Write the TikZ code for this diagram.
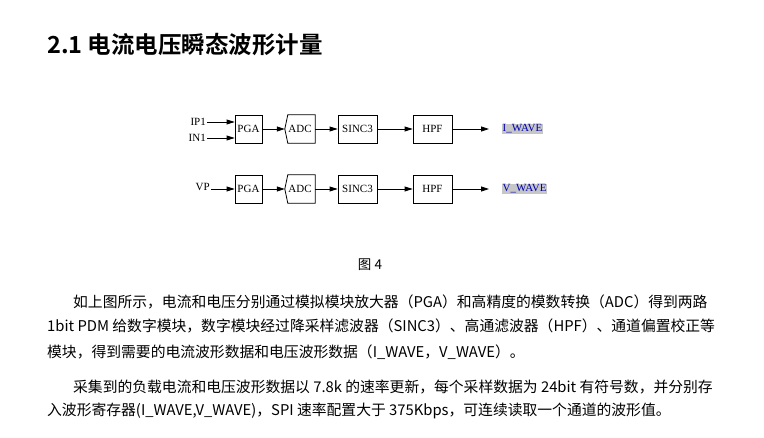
\documentclass[tikz,border=0pt]{standalone}
\usepackage{fontspec}
\setmainfont{Liberation Serif}
\newfontfamily\cjk{Noto Sans CJK SC}
\newfontfamily\cjkb{Noto Sans CJK SC Bold}
\usetikzlibrary{arrows.meta}
\begin{document}
\begin{tikzpicture}[x=1pt,y=-1pt,
  blk/.style={draw,line width=0.8pt,minimum width=27pt,minimum height=28pt,inner sep=0pt,font=\fontsize{11}{12}\selectfont},
  adcbox/.style={minimum width=30pt,minimum height=28pt,inner sep=0pt,font=\fontsize{11}{12}\selectfont},
  lbl/.style={font=\fontsize{11}{12}\selectfont,inner sep=1pt},
  outlbl/.style={font=\fontsize{11}{12}\selectfont,text=blue!70!black,fill=gray!45,inner sep=0.5pt},
  arr/.style={-{Triangle[length=8pt,width=5pt]},line width=0.8pt},
  body/.style={anchor=west,inner sep=0pt,font=\cjk\fontsize{14.8}{16}\selectfont}]
\useasboundingbox (0,0) rectangle (764,438);
\node[anchor=west,inner sep=0pt,font=\cjkb\fontsize{23.5}{25}\selectfont] (h) at (47,45) {2.1 电流电压瞬态波形计量};
% row 1
\node[blk] (p1) at (248.5,129) {PGA};
\node[adcbox] (a1) at (300,129) {ADC};
\node[blk,minimum width=39pt] (s1) at (357.5,129) {SINC3};
\node[blk,minimum width=39pt] (f1) at (432.5,129) {HPF};
\coordinate (e1) at (489,129);
\node[outlbl,anchor=west] (o1) at (502,129) {I\_WAVE};
\node[lbl,anchor=east] (ip) at (207,122) {IP1};
\node[lbl,anchor=east] (in) at (207,138) {IN1};
\draw[arr] (ip.east) -- (ip.east -| p1.west);
\draw[arr] (in.east) -- (in.east -| p1.west);
\draw[line width=0.8pt] ([xshift=3pt]a1.north west) -- (a1.north east) -- (a1.south east) -- ([xshift=3pt]a1.south west) -- (a1.west) -- cycle;
\draw[arr] (p1) -- (a1.west);
\draw[arr] (a1) -- (s1);
\draw[arr] (s1) -- (f1);
\draw[arr] (f1) -- (e1);
% row 2
\node[blk] (p2) at (248.5,189) {PGA};
\node[adcbox] (a2) at (300,189) {ADC};
\node[blk,minimum width=39pt] (s2) at (357.5,189) {SINC3};
\node[blk,minimum width=39pt] (f2) at (432.5,189) {HPF};
\coordinate (e2) at (489,189);
\node[outlbl,anchor=west] (o2) at (502,189) {V\_WAVE};
\node[lbl,anchor=east] (vp) at (211,187) {VP};
\draw[arr] (vp.east|-p2) -- (p2.west);
\draw[line width=0.8pt] ([xshift=3pt]a2.north west) -- (a2.north east) -- (a2.south east) -- ([xshift=3pt]a2.south west) -- (a2.west) -- cycle;
\draw[arr] (p2) -- (a2.west);
\draw[arr] (a2) -- (s2);
\draw[arr] (s2) -- (f2);
\draw[arr] (f2) -- (e2);
\node[inner sep=0pt,font=\cjk\fontsize{13.5}{15}\selectfont] (cap) at (370,265) {图 4};
\node[body] (b1) at (73,302) {如上图所示，电流和电压分别通过模拟模块放大器（PGA）和高精度的模数转换（ADC）得到两路};
\node[body] (b2) at (47,326) {1bit PDM 给数字模块，数字模块经过降采样滤波器（SINC3）、高通滤波器（HPF）、通道偏置校正等};
\node[body] (b3) at (47,352) {模块，得到需要的电流波形数据和电压波形数据（I\_WAVE，V\_WAVE）。};
\node[body] (b4) at (73,387) {采集到的负载电流和电压波形数据以 7.8k 的速率更新，每个采样数据为 24bit 有符号数，并分别存};
\node[body] (b5) at (47,411) {入波形寄存器(I\_WAVE,V\_WAVE)，SPI 速率配置大于 375Kbps，可连续读取一个通道的波形值。};
\end{tikzpicture}
\end{document}
